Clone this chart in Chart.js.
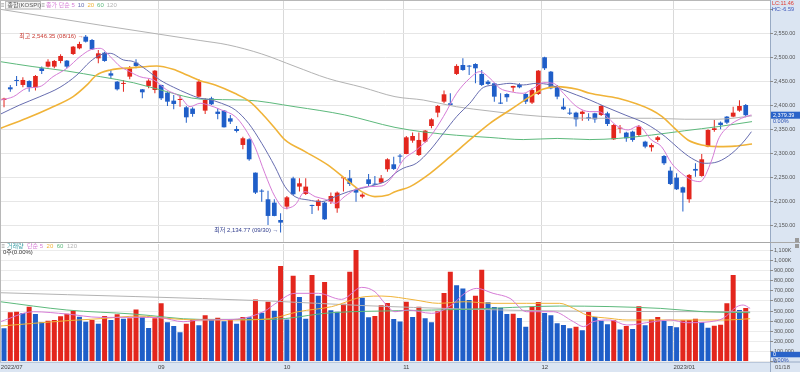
<!DOCTYPE html>
<html>
<head>
<meta charset="utf-8">
<script src="https://cdn.jsdelivr.net/npm/chart.js@4.4.0/dist/chart.umd.min.js"></script>
<style>
html, body { margin: 0; padding: 0; background: #fff; }
#wrap { width: 800px; height: 372px; overflow: hidden; }
canvas { display: block; }
</style>
</head>
<body>
<div id="wrap">
<canvas id="priceChart" width="800" height="243"></canvas>
<canvas id="volumeChart" width="800" height="129"></canvas>
</div>
<script>
// KOSPI daily candles, 2022/07 ~ 2023/01
const openP = [
  2411, 2437.5, 2452.8, 2442.4, 2450.7, 2437.5, 2477.1, 2480.6, 2480.6, 2492.4,
  2493.1, 2506.9, 2518.7, 2543, 2536.1, 2497.9, 2509.7, 2466.7, 2449.3, 2444.5,
  2459.7, 2488.9, 2433.3, 2440.3, 2431.9, 2442.4, 2426.4, 2409.7, 2411.1, 2395.8,
  2393.1, 2418, 2388.9, 2414.6, 2386.8, 2388.9, 2372.9, 2350.7, 2317.4, 2329.2,
  2259.7, 2222.2, 2204.2, 2197.2, 2161.1, 2188.9, 2247.9, 2230.6, 2215.3, 2192.4,
  2190.3, 2197.2, 2199.3, 2185.4, 2247.9, 2247.9, 2223.6, 2209.7, 2245.8, 2236.8,
  2238.9, 2266.7, 2277.1, 2295.2, 2298.6, 2326.4, 2296.5, 2324.3, 2356.9, 2384.7,
  2407.6, 2404.2, 2465.3, 2484, 2482.6, 2486.1, 2465.3, 2449.3, 2445.8, 2405.6,
  2423.6, 2436.8, 2442.4, 2423.6, 2405.6, 2423.6, 2500, 2470.1, 2440.3, 2397.2,
  2384.7, 2384.7, 2382, 2375, 2383.3, 2379.9, 2383.3, 2329.2, 2351.4, 2343.1,
  2345.1, 2338.2, 2324.3, 2312.5, 2327.8, 2294.4, 2263.9, 2249.3, 2229.2, 2204.2,
  2267.4, 2252.8, 2313.9, 2348.6, 2363.9, 2376.4, 2376.4, 2388.9, 2400.7
];
const highP = [
  2416, 2442.4, 2461.1, 2458.3, 2452, 2463.2, 2480.6, 2495.8, 2494.5, 2506.3,
  2494.5, 2523.6, 2532.6, 2546.35, 2538.2, 2515.2, 2511.8, 2473.6, 2450.7, 2452.8,
  2482, 2495.8, 2434, 2454.2, 2473.6, 2443, 2428.5, 2421.5, 2421.5, 2398.6,
  2395.8, 2454.2, 2414.6, 2418, 2393.8, 2390.3, 2379.9, 2357, 2334.7, 2331.3,
  2260, 2225, 2222.2, 2204.2, 2175, 2211.1, 2251.4, 2247.9, 2247.9, 2193,
  2204.2, 2199.3, 2218.1, 2220.2, 2249.5, 2265.3, 2227.1, 2216.7, 2257, 2252.8,
  2254.9, 2289.6, 2293, 2298.6, 2336.1, 2343.1, 2343.1, 2348.6, 2372.9, 2400.7,
  2430.6, 2425, 2485.4, 2497.9, 2484, 2487.5, 2473.6, 2452.8, 2447.2, 2425,
  2425, 2441, 2445.8, 2425, 2435.4, 2473.6, 2501.4, 2471.5, 2442.4, 2414.6,
  2393.8, 2386.8, 2389, 2383.3, 2384.7, 2400.7, 2386.8, 2361.1, 2359, 2345.1,
  2347.2, 2359, 2326.4, 2320.8, 2336.1, 2296.5, 2272.2, 2258.3, 2230.6, 2257,
  2279.2, 2298.6, 2350, 2369.4, 2366, 2377.8, 2397.2, 2410.6, 2402.8
];
const lowP = [
  2396, 2428.5, 2440.3, 2437.5, 2428.5, 2430.6, 2465.3, 2479, 2477.1, 2487.5,
  2477.1, 2504.9, 2516.6, 2531, 2515.2, 2487.5, 2491, 2456.3, 2430.6, 2428.5,
  2454.2, 2477.1, 2414.6, 2435.4, 2425, 2411.1, 2398.6, 2391.7, 2397.2, 2363.9,
  2376.4, 2416.6, 2382, 2400.7, 2370.8, 2353.5, 2361.1, 2343.1, 2308.3, 2284.7,
  2215.3, 2199.3, 2150.7, 2169, 2134.77, 2183.3, 2213.2, 2220.2, 2213.2, 2173.6,
  2180.6, 2161.1, 2194.4, 2176.4, 2220.2, 2231.9, 2199.3, 2206.3, 2231.9, 2234,
  2237.5, 2261.8, 2265.3, 2279.2, 2298, 2322.2, 2294.4, 2322.2, 2352.1, 2375,
  2404.2, 2398.6, 2463.2, 2472.2, 2463.2, 2445.8, 2440.3, 2442.4, 2407.6, 2402.8,
  2407.6, 2428.5, 2435.4, 2402.8, 2402.8, 2421.5, 2473.6, 2433.3, 2412.5, 2390.3,
  2379.9, 2355.6, 2368, 2368, 2363.9, 2377.8, 2356.9, 2327.8, 2341.7, 2324.3,
  2324.3, 2334.7, 2310.4, 2303.5, 2324.3, 2275.7, 2234, 2223.6, 2178.5, 2197.2,
  2251.4, 2251.4, 2312.5, 2345.1, 2350, 2361.1, 2375, 2386.8, 2375
];
const closeP = [
  2414, 2433.3, 2450.7, 2452.8, 2437.5, 2461.1, 2471.5, 2491, 2492.4, 2502.8,
  2480.6, 2522.2, 2527.8, 2532.6, 2516.6, 2508.3, 2492.4, 2461.8, 2433.3, 2445.8,
  2477.1, 2482, 2427.1, 2451.4, 2472.2, 2414.6, 2407.6, 2402.8, 2412.5, 2375,
  2382, 2449.3, 2411.1, 2402.1, 2382, 2354.2, 2366, 2346.5, 2331.3, 2287.5,
  2218.1, 2220.2, 2169.5, 2169.5, 2155.6, 2208.3, 2214.6, 2237.5, 2230.6, 2190.3,
  2201.4, 2162.5, 2211.1, 2218.1, 2249.3, 2236.1, 2218.1, 2213.9, 2236.1, 2234.7,
  2247.9, 2287.5, 2267.4, 2293.1, 2333.3, 2336.1, 2327.8, 2347.2, 2370.8, 2398.6,
  2422.9, 2400.7, 2482, 2473.6, 2480.6, 2477.1, 2442.4, 2444.5, 2418, 2403.5,
  2416.7, 2440.3, 2437.5, 2407.6, 2432, 2472.2, 2477.1, 2435.4, 2418, 2391.7,
  2382.6, 2370.8, 2386.8, 2372.2, 2370.8, 2398.6, 2361.1, 2359, 2353.5, 2331.3,
  2327.8, 2355.6, 2313.9, 2317.4, 2333.3, 2279.2, 2236.1, 2225, 2218.1, 2254.9,
  2263.9, 2287.5, 2348.6, 2352.1, 2359, 2363.9, 2384.7, 2398.6, 2379.39
];
// volume, thousands of shares
const volume = [
  328, 487, 493, 480, 543, 470, 391, 404, 411, 447, 474, 503, 444, 394, 411, 375, 450, 411, 467, 424,
  428, 516, 444, 332, 427, 576, 388, 351, 289, 375, 417, 358, 457, 421, 434, 398, 417, 375, 441, 438,
  615, 483, 592, 503, 945, 417, 850, 639, 424, 856, 652, 787, 507, 493, 573, 889, 1104, 632, 437, 450,
  556, 579, 421, 397, 592, 441, 543, 427, 388, 497, 678, 889, 754, 724, 609, 652, 909, 586, 540, 533,
  470, 474, 431, 345, 543, 589, 480, 457, 378, 361, 328, 345, 309, 490, 441, 404, 368, 408, 318, 351,
  322, 546, 358, 417, 441, 401, 351, 338, 408, 410, 424, 391, 335, 355, 365, 576, 856, 510, 529
];

// moving averages: [candle index, value]
const ma5 = [[-0.5,2411],[1.5,2418],[3.6,2435.4],[5.7,2439],[7.8,2459.7],[10,2477.1],[12.1,2501.4],[13.7,2515.3],[15.3,2518.7],[16.9,2501.4],[18.5,2480.6],[19.5,2473.6],[21.6,2459.7],[23.8,2452.8],[25.9,2432],[28,2418],[29.6,2397.2],[31.2,2404.2],[32.5,2400.7],[34.6,2390.3],[36.8,2376.4],[38.3,2352.1],[39.9,2313.9],[41.5,2258.3],[43.1,2209.7],[44.7,2185.4],[46.3,2192.4],[47.9,2220.2],[49.5,2209.7],[51.1,2204.2],[52.7,2195.8],[54.3,2211.1],[55.8,2223.6],[58,2230.6],[60.1,2231.9],[62.2,2258.3],[63.5,2286.1],[65.6,2306.9],[67.8,2334.7],[69.9,2376.4],[72,2425],[74.1,2456.3],[75.7,2470.1],[77.3,2456.3],[78.9,2435.4],[80.5,2428.5],[82.6,2425],[84.2,2435.4],[85.8,2447.2],[87.4,2445.8],[89,2425],[91.1,2397.2],[93.2,2386.8],[94.5,2386.8],[97.7,2355.6],[99.3,2348.6],[100.9,2357],[103,2327.8],[104.6,2313.9],[106.2,2279.2],[107.8,2258.3],[109.4,2244.5],[110.7,2241],[112.6,2286.1],[113.6,2327.8],[115.2,2355.6],[117.3,2372.9],[118.9,2379.9]];
const ma10 = [[-0.5,2382],[2.5,2400.7],[5.7,2418],[8.9,2437.5],[11.6,2463.2],[13.7,2491],[15.3,2504.9],[16.9,2508.3],[19,2494.5],[20.6,2491],[22.7,2473.6],[24.8,2452.8],[27,2437.5],[29.1,2425],[31.2,2414.6],[32.5,2412.5],[34.6,2404.2],[36.8,2390.3],[38.9,2362.5],[41,2320.8],[43.1,2272.2],[44.7,2230.6],[46.3,2209.7],[48.4,2202.8],[50.5,2199.3],[52.7,2209.7],[54.8,2220.2],[56.9,2227.1],[59,2234],[61.1,2244.5],[62.2,2258.3],[63.5,2268.8],[65.6,2279.2],[67.8,2306.9],[69.9,2341.7],[72,2376.4],[74.1,2404.2],[76.3,2437.5],[78.4,2442.4],[80.5,2445.8],[82.6,2442.4],[84.7,2445.8],[86.9,2442.4],[89,2432],[91.1,2421.5],[93.2,2411.1],[95.6,2397.2],[98.8,2379.9],[102,2362.5],[105.2,2334.7],[107.3,2310.4],[109.4,2289.6],[111.5,2279.2],[113.6,2282.6],[115.8,2300],[117.9,2327.8],[118.9,2345]];
const ma20 = [[-0.6,2352],[3.6,2373],[7.3,2394],[11,2418],[13.2,2442.4],[14.7,2463],[16.9,2473.6],[20.6,2478.5],[24.3,2482],[26.9,2475],[29.1,2463],[31.2,2451.4],[33.6,2442.4],[36.7,2425],[39.1,2407.6],[41,2383.3],[43.1,2352],[44.7,2327.8],[47.9,2303.5],[51.5,2275.7],[54.2,2247.9],[56.9,2220.2],[59,2209.7],[61.1,2213.2],[62.2,2220],[64.6,2230.6],[67.8,2258.3],[71,2293],[74.1,2327.8],[77.3,2362.5],[80.5,2390.3],[83.7,2418],[85.7,2433.3],[88,2439],[91.2,2433.3],[93.2,2425],[97.7,2414.6],[103,2390.3],[104.7,2376.4],[106.7,2352],[108.8,2327.8],[111,2317.4],[113.6,2314],[116.3,2315],[119,2319.4]];
const ma60 = [[-0.6,2491],[4.6,2480.6],[10,2471.5],[15.3,2459.7],[20.6,2447],[25.9,2428.5],[31.2,2413],[38.3,2411],[46.3,2397],[54.2,2380],[62.2,2354],[66.7,2344.6],[72,2337.6],[77.3,2333],[82.6,2328.6],[88,2331],[93.2,2328.6],[97.7,2331],[103,2338],[108.3,2347],[113.6,2355.6],[119,2366]];
const ma120 = [[-0.6,2600],[15.3,2567],[31.2,2535],[35.6,2526],[41,2507],[46.3,2481],[51.5,2456],[57,2437.5],[62.2,2418],[66.7,2411],[72,2397],[77.3,2388],[82.6,2380],[88,2375],[93.2,2373],[97.7,2373],[103,2373],[108.3,2371],[113.6,2371],[119,2378]];

const vma5 = [[-0.6,394],[4.7,493],[10,470],[15.3,437],[21.6,437],[24.8,434],[28.5,394],[31.2,411],[36.5,417],[41.5,500],[43.1,570],[46.3,675],[50,675],[53.7,615],[56.9,734],[59,691],[60.6,576],[62.2,493],[64.3,510],[68,477],[71.2,559],[73.3,675],[75.2,724],[77.8,675],[80.5,625],[83.1,493],[87.4,493],[90.6,394],[92.2,345],[93.7,394],[96.4,411],[99.1,361],[103.3,394],[106,411],[108.6,384],[112.3,394],[114.4,427],[116.6,543],[117.6,559],[118.7,526]];
const vma20 = [[-0.6,351],[4.7,378],[10,404],[15.3,424],[21.6,450],[25.9,427],[31.2,411],[36.5,411],[42.3,424],[46.8,493],[52.1,543],[57.4,642],[60.1,648],[65.4,609],[69.1,576],[73.3,592],[77.8,576],[83.1,576],[88.4,576],[90.6,526],[92.7,460],[96.4,427],[99.1,411],[104.4,411],[115,411],[118.7,424]];
const vma60 = [[-0.6,592],[10,510],[20.6,470],[31.2,417],[42.3,417],[52.1,483],[62.7,503],[73.3,516],[88.4,549],[104.4,526],[111.3,493],[118.7,483]];
const vma120 = [[-0.6,681],[42.3,599],[57.4,553],[88.4,500],[118.7,493]];

// axis labels
const monthLabels = ['2022/07', '09', '10', '11', '12', '2023/01'];
const monthStart = [0, 25, 45, 64, 86, 107];
const priceTicks = [2150, 2200, 2250, 2300, 2350, 2400, 2450, 2500, 2550, 2600];
const volumeTicks = [0, 100, 200, 300, 400, 500, 600, 700, 800, 900, 1000, 1100];
const maPeriods = [5, 10, 20, 60, 120];
const volPeriods = [5, 20, 60, 120];
const highDate = '08/16', lowDate = '09/30', lastDate = '01/18';
const lcText = 'LC:11.46', hcText = 'HC:-6.59';

const RED = '#e3261d', BLUE = '#1f5ec8';
const MA_COLORS = { 5: '#d67cd6', 10: '#676db0', 20: '#f0b338', 60: '#5db97c', 120: '#b3b3b3' };
const FONT = "'Liberation Sans','Noto Sans CJK KR',sans-serif";
const STRIP = '#dbe5f2', STRIP_LINE = '#98aac4';
const X_RANGE = [-0.48, 121.86];

const idx = closeP.map((_, i) => i);
const candleColor = idx.map(i => closeP[i] >= openP[i] ? RED : BLUE);
const volColor = idx.map(i => i > 0 && volume[i] > volume[i - 1] ? RED : BLUE);
const pts = arr => arr.map(p => ({ x: p[0], y: p[1] }));
const fmt2 = v => v.toLocaleString('en-US', { minimumFractionDigits: 2, maximumFractionDigits: 2 });

function lineSet(data, color, width) {
    return {
        type: 'line', data: pts(data), borderColor: color, borderWidth: width || 1,
        pointRadius: 0, cubicInterpolationMode: 'monotone', fill: false
    };
}

function drawRun(ctx, x, y, parts, gap) {
    parts.forEach(([t, c]) => {
        ctx.fillStyle = c;
        ctx.fillText(t, x, y);
        x += ctx.measureText(t).width + gap;
    });
    return x;
}

function monthTicks(withFirst) {
    const t = monthStart.map((s, k) => ({ value: s - 0.5, label: monthLabels[k] }));
    return withFirst ? t : t.slice(1);
}

function stripBackground(bottomStrip) {
    return {
        id: 'strip',
        beforeDraw(chart) {
            const { ctx, chartArea: a, width, height } = chart;
            ctx.save();
            ctx.fillStyle = '#fff';
            ctx.fillRect(0, 0, width, height);
            ctx.fillStyle = STRIP;
            ctx.fillRect(a.right, 0, width - a.right, height);
            if (bottomStrip) ctx.fillRect(0, a.bottom, width, height - a.bottom);
            ctx.strokeStyle = STRIP_LINE;
            ctx.lineWidth = 1;
            ctx.beginPath();
            ctx.moveTo(a.right + 0.5, 0);
            ctx.lineTo(a.right + 0.5, height);
            if (bottomStrip) {
                ctx.moveTo(0, a.bottom + 0.5);
                ctx.lineTo(width, a.bottom + 0.5);
            }
            ctx.stroke();
            ctx.restore();
        }
    };
}

// Price panel
const pricePlugin = {
    id: 'priceDecor',
    afterDraw(chart) {
        const { ctx, chartArea: a, width, height, scales: { x, y } } = chart;
        ctx.save();
        ctx.strokeStyle = '#b8b8b8';
        ctx.lineWidth = 1;
        ctx.beginPath();
        ctx.moveTo(0.5, 0); ctx.lineTo(0.5, height);
        ctx.moveTo(0, 0.5); ctx.lineTo(a.right, 0.5);
        ctx.stroke();
        ctx.strokeStyle = '#a8a8a8';
        ctx.beginPath();
        ctx.moveTo(0, height - 0.5); ctx.lineTo(width, height - 0.5);
        ctx.stroke();

        // legend
        ctx.textBaseline = 'middle';
        ctx.font = '6px ' + FONT;
        ctx.fillStyle = '#8a8a8a';
        ctx.fillText('≡', 1, 5);
        ctx.fillStyle = '#f4f4f4';
        ctx.fillRect(5.5, 1.5, 35, 7.5);
        ctx.strokeStyle = '#bdbdbd';
        ctx.strokeRect(5.5, 1.5, 35, 7.5);
        ctx.fillStyle = '#555';
        ctx.fillText('종합(KOSPI)', 7.5, 5.5);
        ctx.fillStyle = '#8a8a8a';
        ctx.fillText('≡', 41.5, 5.5);
        const parts = maPeriods.map((p, k) => [(k === 0 ? '종가 단순 ' : '') + p, MA_COLORS[p]]);
        drawRun(ctx, 46, 5.5, parts, 3);

        // highest / lowest notes
        let hi = 0, lo = 0;
        idx.forEach(i => { if (highP[i] > highP[hi]) hi = i; if (lowP[i] < lowP[lo]) lo = i; });
        ctx.textAlign = 'right';
        ctx.fillStyle = '#c83a32';
        ctx.fillText('최고 ' + fmt2(highP[hi]) + ' (' + highDate + ') →', x.getPixelForValue(hi) - 2, y.getPixelForValue(highP[hi]) + 1);
        ctx.fillStyle = '#34408f';
        ctx.fillText('최저 ' + fmt2(lowP[lo]) + ' (' + lowDate + ') →', x.getPixelForValue(lo) - 2, y.getPixelForValue(lowP[lo]) - 2);

        // axis side labels
        ctx.textAlign = 'left';
        ctx.font = '5.5px ' + FONT;
        ctx.fillStyle = '#e03a30';
        ctx.fillText(lcText, a.right + 2, 3.5);
        ctx.fillStyle = '#3d55b8';
        ctx.fillText(hcText, a.right + 2, 9);
        const last = closeP.length - 1;
        const py = y.getPixelForValue(closeP[last]);
        ctx.fillStyle = '#2a63c9';
        ctx.fillRect(a.right + 1, py - 3.5, width - a.right - 1, 7);
        ctx.fillStyle = '#fff';
        ctx.fillText(fmt2(closeP[last]), a.right + 3, py);
        ctx.fillStyle = '#2a4fb0';
        ctx.fillText('0.00%', a.right + 3, py + 6.5);
        ctx.fillStyle = '#9a9a9a';
        ctx.fillRect(width - 5, height - 5, 4, 4);
        ctx.restore();
    }
};

new Chart(document.getElementById('priceChart'), {
    type: 'bar',
    data: {
        datasets: [
            lineSet(ma5, MA_COLORS[5]),
            lineSet(ma10, MA_COLORS[10]),
            lineSet(ma20, MA_COLORS[20], 1.6),
            lineSet(ma60, MA_COLORS[60]),
            lineSet(ma120, MA_COLORS[120]),
            {
                data: idx.map(i => ({ x: i, y: [openP[i], closeP[i]] })),
                backgroundColor: candleColor, barThickness: 4.7, minBarLength: 1,
                grouped: false, inflateAmount: 0
            },
            {
                data: idx.map(i => ({ x: i, y: [lowP[i], highP[i]] })),
                backgroundColor: candleColor, barThickness: 1, grouped: false, inflateAmount: 0
            }
        ]
    },
    options: {
        responsive: false,
        animation: false,
        devicePixelRatio: 1,
        layout: { padding: { left: 1, top: 0, right: 0, bottom: 1 } },
        plugins: { legend: { display: false }, tooltip: { enabled: false } },
        scales: {
            x: {
                type: 'linear', min: X_RANGE[0], max: X_RANGE[1], offset: false,
                grid: { color: '#d9d9d9', drawTicks: false, offset: false },
                border: { display: false },
                ticks: { display: false },
                afterBuildTicks: s => { s.ticks = monthTicks(false); },
                afterFit: s => { s.height = 0; s.paddingLeft = 0; s.paddingRight = 0; }
            },
            y: {
                position: 'right', min: 2115.2, max: 2619.4,
                grid: { color: '#e6e6e6', tickLength: 3, tickColor: '#8c8c8c' },
                border: { display: false },
                ticks: {
                    padding: 1, color: '#555', font: { family: FONT, size: 5.5 },
                    callback: v => v > 2550 ? '' : fmt2(v)
                },
                afterBuildTicks: s => { s.ticks = priceTicks.map(v => ({ value: v })); },
                afterFit: s => { s.width = 30; s.paddingTop = 0; s.paddingBottom = 0; }
            }
        }
    },
    plugins: [stripBackground(false), pricePlugin]
});

// Volume panel
const volumePlugin = {
    id: 'volumeDecor',
    afterDraw(chart) {
        const { ctx, chartArea: a, width, height, scales: { y } } = chart;
        ctx.save();
        ctx.strokeStyle = '#b8b8b8';
        ctx.lineWidth = 1;
        ctx.beginPath();
        ctx.moveTo(0.5, 0); ctx.lineTo(0.5, a.bottom);
        ctx.stroke();
        ctx.textBaseline = 'middle';
        ctx.font = '6px ' + FONT;
        ctx.fillStyle = '#8a8a8a';
        ctx.fillText('≡', 1.5, 3.5);
        const parts = [['거래량', '#3c9fa6']].concat(volPeriods.map((p, k) => [(k === 0 ? '단순 ' : '') + p, MA_COLORS[p]]));
        drawRun(ctx, 7, 3.5, parts, 3.5);
        ctx.fillStyle = '#333';
        ctx.fillText('0주(0.00%)', 3, 9.5);

        ctx.font = '5.5px ' + FONT;
        const py = y.getPixelForValue(0) - 7;
        ctx.fillStyle = '#2a63c9';
        ctx.fillRect(a.right + 1, py - 2.7, width - a.right - 1, 5.5);
        ctx.fillStyle = '#fff';
        ctx.fillText('0', a.right + 3, py);
        ctx.fillStyle = '#2a4fb0';
        ctx.fillText('0.00%', a.right + 3, py + 5.5);
        ctx.fillStyle = '#555';
        ctx.font = '6px ' + FONT;
        ctx.fillText(lastDate, a.right + 5, (a.bottom + height) / 2 + 0.5);
        ctx.fillStyle = '#9a9a9a';
        ctx.fillRect(width - 5, 1, 4, 4);
        ctx.restore();
    }
};

new Chart(document.getElementById('volumeChart'), {
    type: 'bar',
    data: {
        datasets: [
            lineSet(vma5, MA_COLORS[5]),
            lineSet(vma20, MA_COLORS[20]),
            lineSet(vma60, MA_COLORS[60]),
            lineSet(vma120, MA_COLORS[120]),
            {
                data: idx.map(i => ({ x: i, y: volume[i] })),
                backgroundColor: volColor, barThickness: 5, grouped: false, inflateAmount: 0
            }
        ]
    },
    options: {
        responsive: false,
        animation: false,
        devicePixelRatio: 1,
        layout: { padding: { left: 1, top: 1, right: 0, bottom: 0 } },
        plugins: { legend: { display: false }, tooltip: { enabled: false } },
        scales: {
            x: {
                type: 'linear', min: X_RANGE[0], max: X_RANGE[1], offset: false,
                grid: { color: c => c.tick && c.tick.value < 0 ? 'rgba(0,0,0,0)' : '#d9d9d9', drawTicks: false, offset: false },
                border: { display: false },
                ticks: {
                    align: 'start', padding: 2, autoSkip: false, maxRotation: 0,
                    color: '#444', font: { family: FONT, size: 6 },
                    callback: (v, k, ticks) => ticks[k].label
                },
                afterBuildTicks: s => { s.ticks = monthTicks(true); },
                afterFit: s => { s.height = 10.5; s.paddingLeft = 0; s.paddingRight = 0; }
            },
            y: {
                position: 'right', min: 0, max: 1163.4,
                grid: { color: '#ececec', tickLength: 3, tickColor: '#8c8c8c' },
                border: { display: false },
                ticks: {
                    padding: 1, color: '#555', font: { family: FONT, size: 5.5 },
                    callback: v => v >= 1000 ? v.toLocaleString('en-US') + 'K' : (v * 1000).toLocaleString('en-US')
                },
                afterBuildTicks: s => { s.ticks = volumeTicks.map(v => ({ value: v })); },
                afterFit: s => { s.width = 30; s.paddingTop = 0; s.paddingBottom = 0; }
            }
        }
    },
    plugins: [stripBackground(true), volumePlugin]
});
</script>
</body>
</html>
